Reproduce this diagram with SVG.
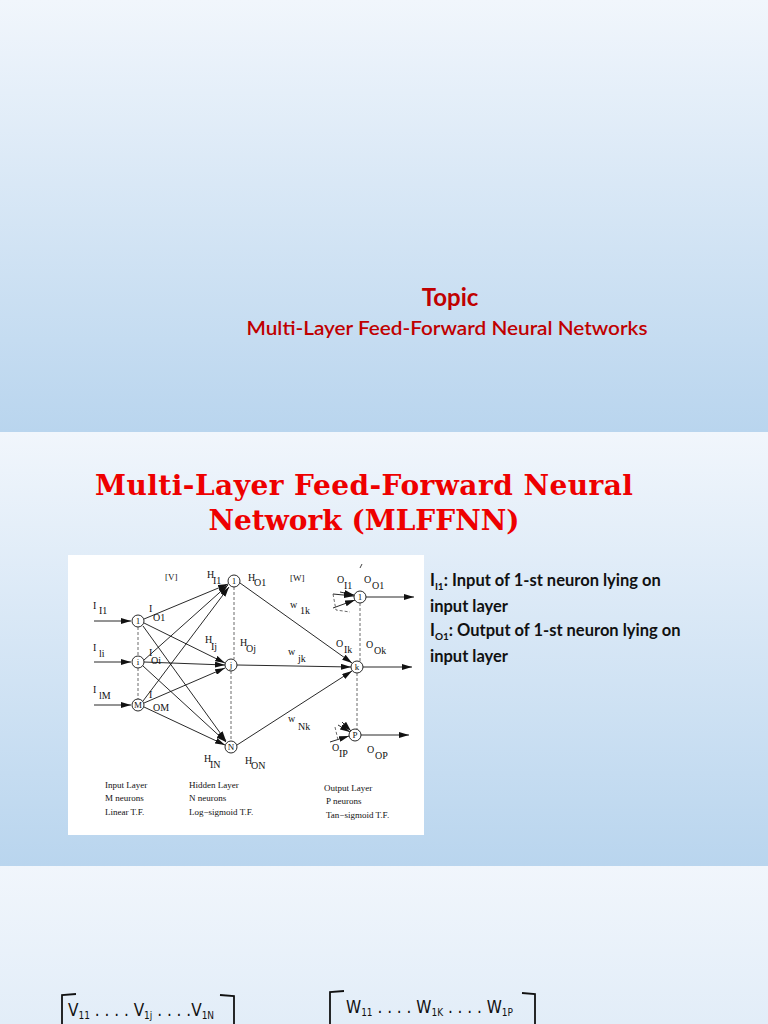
<svg xmlns="http://www.w3.org/2000/svg" width="768" height="1024" viewBox="0 0 768 1024">
<defs>
<linearGradient id="g1" x1="0" y1="0" x2="0" y2="1"><stop offset="0" stop-color="#f1f6fc"/><stop offset="1" stop-color="#b9d5ee"/></linearGradient>
<linearGradient id="g3" x1="0" y1="0" x2="0" y2="1"><stop offset="0" stop-color="#f1f6fc"/><stop offset="1" stop-color="#e2edf8"/></linearGradient>
<marker id="a" viewBox="0 0 10 6" refX="10" refY="3" markerWidth="10" markerHeight="6" markerUnits="userSpaceOnUse" orient="auto"><path d="M0,0 L10,3 L0,6 Z" fill="#111"/></marker>
<style>
.t{font-family:"Liberation Serif",serif;fill:#111}
.b{font-size:10px}.c{font-size:9px}
.n{fill:#fff;stroke:#111;stroke-width:0.9}
.e{stroke:#111;stroke-width:0.9;fill:none;marker-end:url(#a)}
.d{stroke:#444;stroke-width:0.8;stroke-dasharray:3,2;fill:none}
.r{font-family:"Lato","Liberation Sans",sans-serif;font-weight:bold;fill:#111;font-size:16.5px}
</style>
</defs>
<rect width="768" height="432" fill="url(#g1)"/>
<rect y="432" width="768" height="434" fill="url(#g1)"/>
<rect y="866" width="768" height="158" fill="url(#g3)"/>
<text x="450" y="306" text-anchor="middle" font-family="Lato,'Liberation Sans',sans-serif" font-weight="bold" font-size="24" fill="#c00000">Topic</text>
<text x="447" y="335" text-anchor="middle" font-family="Lato,'Liberation Sans',sans-serif" font-weight="600" font-size="19" fill="#c00000" textLength="401" lengthAdjust="spacingAndGlyphs">Multi-Layer Feed-Forward Neural Networks</text>
<text x="364" y="495" text-anchor="middle" font-family="'DejaVu Serif',serif" font-weight="bold" font-size="28" fill="#ee0000" textLength="538">Multi-Layer Feed-Forward Neural</text>
<text x="364" y="530" text-anchor="middle" font-family="'DejaVu Serif',serif" font-weight="bold" font-size="28" fill="#ee0000">Network (MLFFNN)</text>
<rect x="68" y="555" width="356" height="280" fill="#fff"/>
<g id="connectors">
<path class="e" d="M94,621 H131"/><path class="e" d="M94,662 H131"/><path class="e" d="M94,705 H131"/>
<path class="e" d="M144,619 L228,584"/><path class="e" d="M144,623 L225,663"/><path class="e" d="M143,626 L226,741"/>
<path class="e" d="M144,660 L228,585"/><path class="e" d="M144,662 L225,665"/><path class="e" d="M143,666 L226,742"/>
<path class="e" d="M143,701 L229,587"/><path class="e" d="M144,703 L225,668"/><path class="e" d="M144,707 L225,745"/>
<path class="e" d="M240,583 L352,663"/><path class="e" d="M237,665 L351,667"/><path class="e" d="M237,745 L352,671"/>
<path class="e" d="M366,597 H414"/><path class="e" d="M363,667 H412"/><path class="e" d="M361,735 H409"/>
<path class="e" d="M333,594 L354,596"/><path class="e" d="M333,608 L355,600"/><path class="e" d="M340,592 L354,595"/>
<path class="e" d="M338,725 L350,732"/><path class="e" d="M330,742 L349,736"/><path class="e" d="M342,722 L351,731"/>
<path class="d" d="M333,594 L336,610 L350,612"/><path class="d" d="M335,727 L338,740"/>
<path class="d" d="M138,627 V656"/><path class="d" d="M138,668 V699"/>
<path class="d" d="M234,587 V659"/><path class="d" d="M231,671 V741"/>
<path class="d" d="M360,603 V661"/><path class="d" d="M357,673 V729"/>
<path d="M360,568 L362,564" stroke="#111" stroke-width="0.8"/>
</g>
<g id="nodes">
<circle class="n" cx="138" cy="621" r="6"/><text class="t c" x="138" y="624" text-anchor="middle">1</text>
<circle class="n" cx="138" cy="662" r="6"/><text class="t c" x="138" y="665" text-anchor="middle">i</text>
<circle class="n" cx="138" cy="705" r="6"/><text class="t c" x="138" y="708" text-anchor="middle">M</text>
<circle class="n" cx="234" cy="581" r="6"/><text class="t c" x="234" y="584" text-anchor="middle">1</text>
<circle class="n" cx="231" cy="665" r="6"/><text class="t c" x="231" y="668" text-anchor="middle">j</text>
<circle class="n" cx="231" cy="747" r="6"/><text class="t c" x="231" y="750" text-anchor="middle">N</text>
<circle class="n" cx="360" cy="597" r="6"/><text class="t c" x="360" y="600" text-anchor="middle">1</text>
<circle class="n" cx="357" cy="667" r="6"/><text class="t c" x="357" y="670" text-anchor="middle">k</text>
<circle class="n" cx="355" cy="735" r="6"/><text class="t c" x="355" y="738" text-anchor="middle">P</text>
</g>
<g id="labels">
<text x="165" y="580" class="t c">[V]</text><text x="290" y="581" class="t c">[W]</text>
<text x="93" y="609" class="t b">I</text><text x="99" y="614" class="t b">I1</text>
<text x="93" y="651" class="t b">I</text><text x="99" y="657" class="t b">li</text>
<text x="93" y="693" class="t b">I</text><text x="99" y="699" class="t b">lM</text>
<text x="149" y="612" class="t b">I</text><text x="153" y="621" class="t b">O1</text>
<text x="149" y="656" class="t b">I</text><text x="151" y="664" class="t b">Oi</text>
<text x="149" y="698" class="t b">I</text><text x="153" y="711" class="t b">OM</text>
<text x="207" y="578" class="t b">H</text><text x="213" y="584" class="t b">I1</text>
<text x="248" y="581" class="t b">H</text><text x="254" y="586" class="t b">O1</text>
<text x="205" y="643" class="t b">H</text><text x="211" y="650" class="t b">Ij</text>
<text x="240" y="646" class="t b">H</text><text x="246" y="652" class="t b">Oj</text>
<text x="204" y="762" class="t b">H</text><text x="210" y="768" class="t b">IN</text>
<text x="245" y="764" class="t b">H</text><text x="251" y="769" class="t b">ON</text>
<text x="290" y="608" class="t b">w</text><text x="300" y="614" class="t b">1k</text>
<text x="288" y="655" class="t b">w</text><text x="298" y="662" class="t b">jk</text>
<text x="288" y="722" class="t b">w</text><text x="298" y="730" class="t b">Nk</text>
<text x="337" y="583" class="t b">O</text><text x="344" y="589" class="t b">I1</text>
<text x="364" y="583" class="t b">O</text><text x="372" y="589" class="t b">O1</text>
<text x="336" y="647" class="t b">O</text><text x="344" y="653" class="t b">Ik</text>
<text x="366" y="648" class="t b">O</text><text x="374" y="654" class="t b">Ok</text>
<text x="332" y="751" class="t b">O</text><text x="339" y="757" class="t b">IP</text>
<text x="367" y="753" class="t b">O</text><text x="375" y="759" class="t b">OP</text>
<text x="105" y="788" class="t c">Input Layer</text><text x="105" y="801" class="t c">M neurons</text><text x="105" y="815" class="t c">Linear T.F.</text>
<text x="189" y="788" class="t c">Hidden Layer</text><text x="189" y="801" class="t c">N neurons</text><text x="189" y="815" class="t c">Log−sigmoid T.F.</text>
<text x="324" y="791" class="t c">Output Layer</text><text x="326" y="804" class="t c">P neurons</text><text x="326" y="818" class="t c">Tan−sigmoid T.F.</text>
</g>
<text class="r" x="430" y="586">I<tspan font-size="10" dy="4">I1</tspan><tspan dy="-4">: Input of 1-st neuron lying on</tspan></text>
<text class="r" x="430" y="612">input layer</text>
<text class="r" x="430" y="636">I<tspan font-size="10" dy="4">O1</tspan><tspan dy="-4">: Output of 1-st neuron lying on</tspan></text>
<text class="r" x="430" y="662">input layer</text>
<g font-family="'DejaVu Sans Condensed','Liberation Sans',sans-serif" fill="#111">
<path d="M76,994 L62,995 V1024 M220,995 L234,996 V1024 M344,991 L330,992 V1024 M522,993 L535,994 V1024" stroke="#111" stroke-width="1.8" fill="none"/>
<text x="68" y="1016" font-size="17">V<tspan font-size="10" dy="3">11</tspan><tspan dy="-3"> . . . . V</tspan><tspan font-size="10" dy="3">1j</tspan><tspan dy="-3"> . . . .V</tspan><tspan font-size="10" dy="3">1N</tspan></text>
<text x="346" y="1013" font-size="17">W<tspan font-size="10" dy="3">11</tspan><tspan dy="-3"> . . . . W</tspan><tspan font-size="10" dy="3">1K</tspan><tspan dy="-3"> . . . . W</tspan><tspan font-size="10" dy="3">1P</tspan></text>
</g>
</svg>
